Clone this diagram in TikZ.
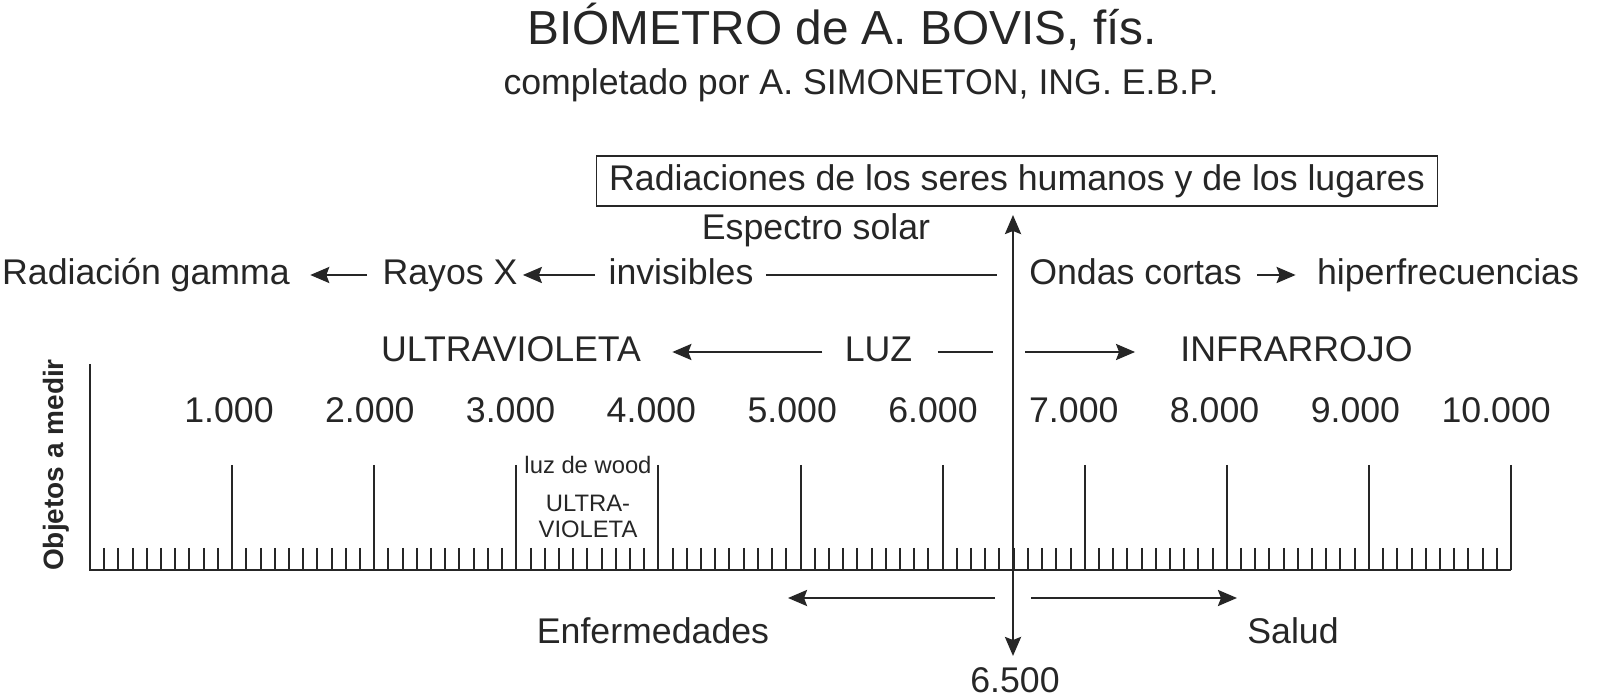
\documentclass[tikz,border=0pt]{standalone}
\usepackage{fontspec}
\setmainfont{Liberation Sans}
\usepackage{xcolor}
\usepackage{tikz}
\usetikzlibrary{
  positioning,
  calc,
  arrows.meta
}
\definecolor{tinta}{RGB}{38,38,38}

\begin{document}
\begin{tikzpicture}[x=0.5pt,y=-0.5pt,
  txt/.style={font=\fontsize{17.85}{21}\selectfont, text=tinta, inner sep=0pt,
    text height=10pt, text depth=0pt, anchor=base},
  chico/.style={font=\fontsize{11.9}{13}\selectfont, text=tinta, inner sep=0pt, anchor=base},
  flecha/.style={draw=tinta, line width=1.3pt, -{Stealth[length=9.5pt,width=8pt,inset=1.5pt]}},
  linea/.style={draw=tinta, line width=1.3pt},
  marca/.style={draw=tinta, line width=1pt}]
  \useasboundingbox (0,0) rectangle (1600,699);

  % タイトル
  \node[font=\fontsize{23.9}{28}\selectfont, text=tinta, inner sep=0pt, anchor=base]
    (titulo) at (842,45) {BIÓMETRO de A. BOVIS, fís.};
  \node[txt] (subtitulo) at (861,95) {completado por A. SIMONETON, ING. E.B.P.};

  % 枠付きのラベル
  \node[draw=tinta, line width=0.7pt, font=\fontsize{17.85}{21}\selectfont, text=tinta,
    inner xsep=6.25pt, inner ysep=0pt, minimum height=25pt,
    text height=12.78pt, text depth=3.75pt]
    (caja) at (1017,181) {Radiaciones de los seres humanos y de los lugares};
  \node[txt] (espectro) at (816,240) {Espectro solar};

  % 中心の軸
  \coordinate (ejeA) at (1013,215);
  \coordinate (ejeB) at (1013,656);
  \draw[flecha, {Stealth[length=9.5pt,width=8pt,inset=1.5pt]}-{Stealth[length=9.5pt,width=8pt,inset=1.5pt]}]
    (ejeB) -- (ejeA);

  % 三段目
  \node[txt] (gamma) at (146,285) {Radiación gamma};
  \node[txt] (rayos) at (450,285) {Rayos X};
  \node[txt] (invis) at (681,285) {invisibles};
  \node[txt] (ondas) at (1135.5,285) {Ondas cortas};
  \node[txt] (hiper) at (1448,285) {hiperfrecuencias};
  \coordinate (eje3) at (997,275);
  \draw[flecha, shorten <=7.5pt, shorten >=10pt] (rayos.west) -- (gamma.east);
  \draw[flecha, shorten <=6.5pt, shorten >=2.5pt] (invis.west) -- (rayos.east);
  \draw[linea, shorten <=6pt] (invis.east) -- (eje3);
  \draw[flecha, shorten <=7.5pt, shorten >=10.5pt] (ondas.east) -- (hiper.west);

  % 四段目
  \node[txt] (uv) at (511,362) {ULTRAVIOLETA};
  \node[txt] (luz) at (878.5,362) {LUZ};
  \node[txt] (ir) at (1296.5,362) {INFRARROJO};
  \coordinate (eje4) at (993,352);
  \coordinate (eje4d) at (1025,352);
  \draw[flecha, shorten <=11pt, shorten >=15.5pt] (luz.west) -- (uv.east);
  \draw[linea, shorten <=12.5pt] (luz.east) -- (eje4);
  \draw[flecha, shorten >=22.5pt] (eje4d) -- (ir.west);

  % 目盛りの数字
  \foreach \n [count=\i] in {1.000,2.000,3.000,4.000,5.000,6.000,7.000,8.000,9.000,10.000}
    \node[txt] (num\i) at ({229+(\i-1)*140.8},423) {\n};

  % 目盛り
  \draw[marca, line width=1.35pt] (90,364) -- (90,570) -- (1511,570);
  \foreach \i in {1,...,100} {
    \pgfmathsetmacro\x{90+\i*14.21}
    \pgfmathsetmacro\y{mod(\i,10)==0 ? 465 : 548}
    \draw[marca] (\x,\y) -- (\x,570);
  }

  % 紫外線の区間
  \node[chico] (wood) at (588,474) {luz de wood};
  \node[chico] (ultra) at (588,512) {ULTRA-};
  \node[chico] (violeta) at (588,538) {VIOLETA};

  % 縦のラベル
  \node[font=\bfseries\fontsize{14}{16}\selectfont, text=tinta, rotate=90,
    inner sep=0pt, anchor=base] (objetos) at (63,465) {Objetos a medir};

  % 下の矢印
  \coordinate (enfI) at (995,598);
  \coordinate (enfF) at (788,598);
  \coordinate (salI) at (1031,598);
  \coordinate (salF) at (1237,598);
  \draw[flecha] (enfI) -- (enfF);
  \draw[flecha] (salI) -- (salF);
  \node[txt] (enf) at (653,643) {Enfermedades};
  \node[txt] (salud) at (1293,643) {Salud};
  \node[txt] (n6500) at (1015,692) {6.500};
\end{tikzpicture}
\end{document}
